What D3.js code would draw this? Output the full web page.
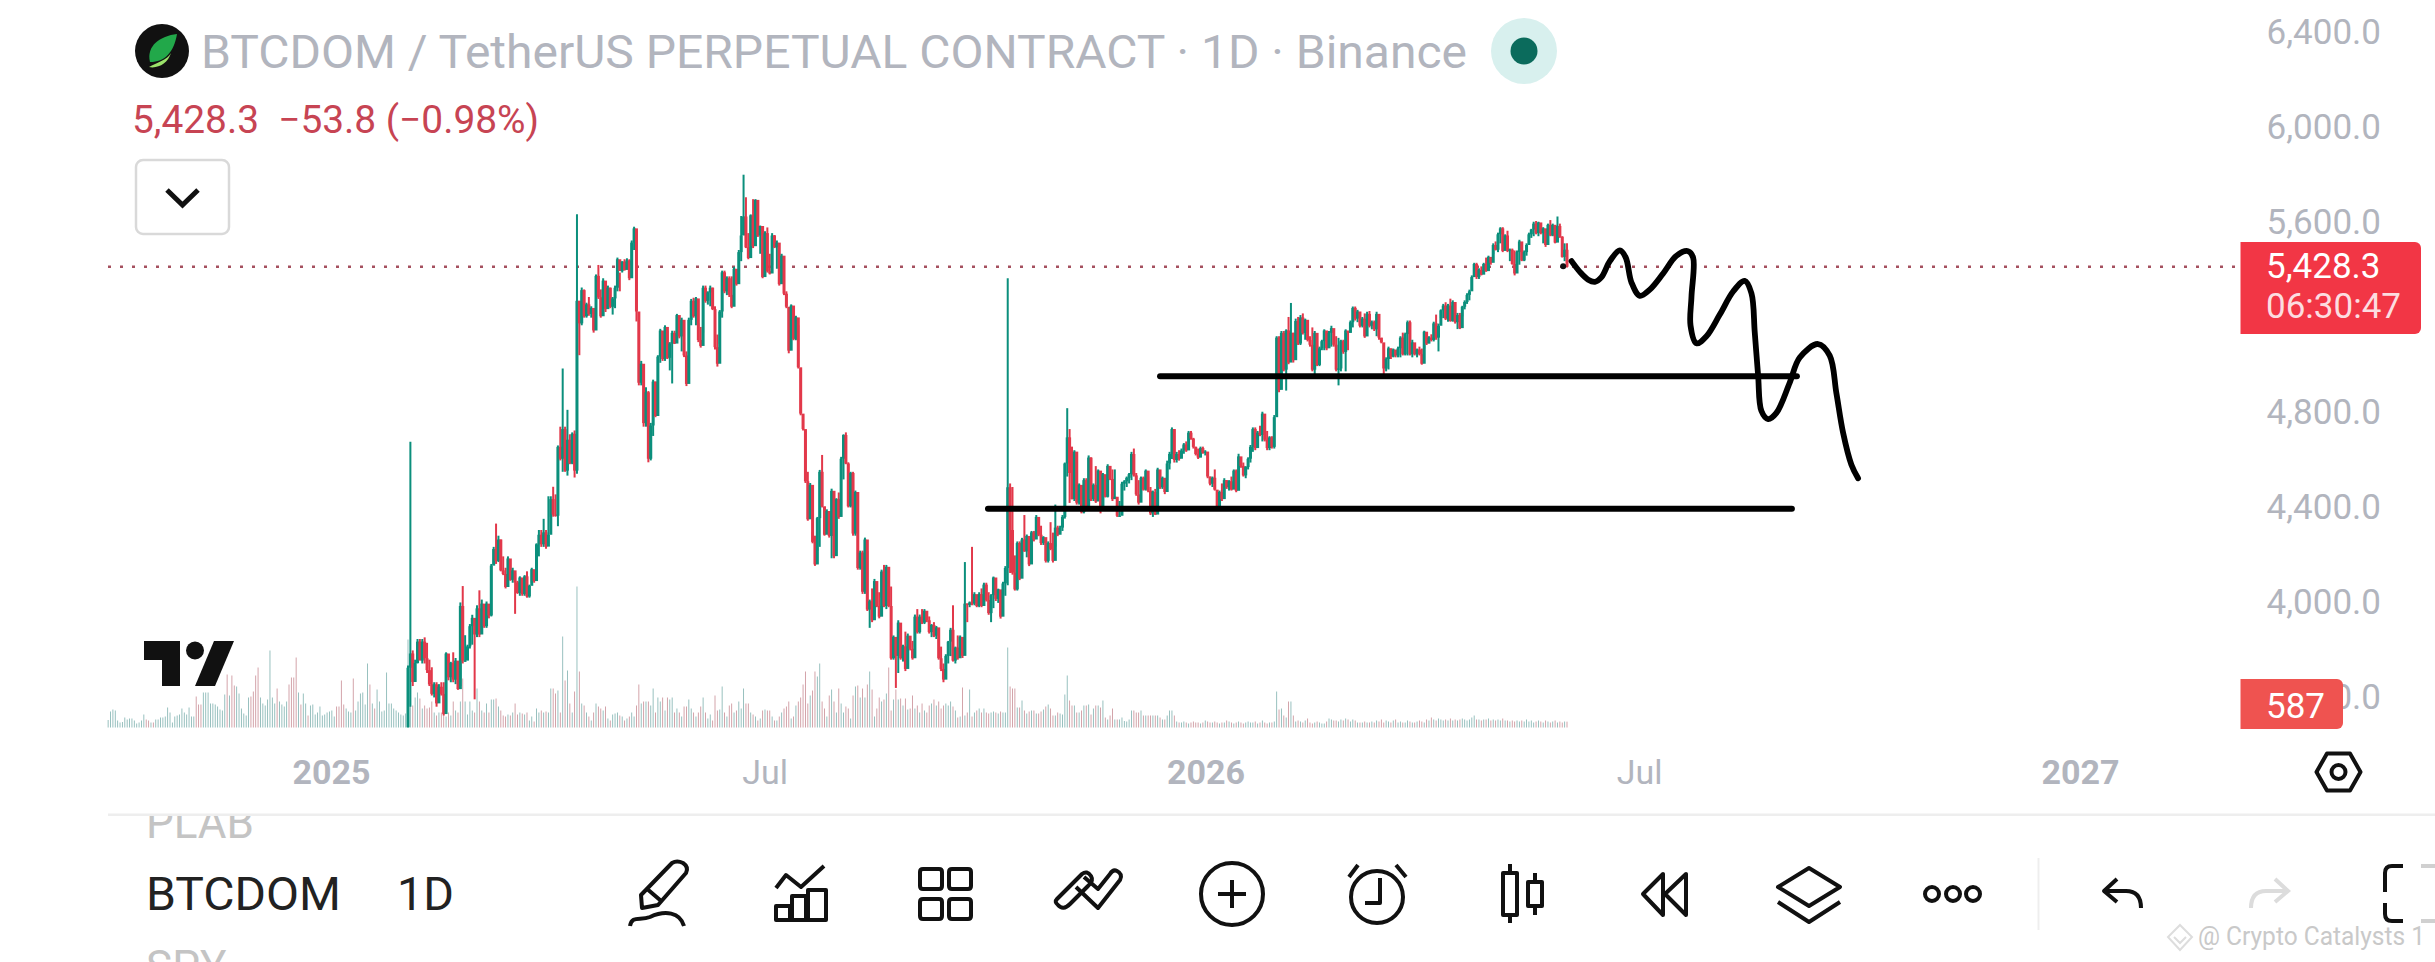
<!DOCTYPE html>
<html>
<head>
<meta charset="utf-8">
<title>BTCDOM / TetherUS</title>
<script src="https://cdn.jsdelivr.net/npm/d3@7/dist/d3.min.js"></script>
<style>
  html, body { margin: 0; background: #fff; }
  svg { display: block; font-family: Roboto, sans-serif; }
  .ic { fill: none; stroke: #111; stroke-width: 4; stroke-linejoin: round; }
</style>
</head>
<body>
<svg id="chart" width="2435" height="962"></svg>
<script>
// ---- Data ----
const priceTicks = [6400, 6000, 5600, 5200, 4800, 4400, 4000, 3600];
const timeTicks = ["2025-01-01", "2025-07-01", "2026-01-01", "2026-07-01", "2027-01-01"];
const lastPrice = 5428.3;
const lastVolume = 587;

const highs = [
  3750,4692,3813,3774,3861,3861,3861,3868,3845,3774,
  3742,3679,3679,3671,3679,3679,3805,3765,3765,3805,
  3781,3718,4015,4084,3877,3837,3924,3963,3932,4003,
  4066,4027,4003,4019,4003,4177,4249,4347,4296,4280,
  4209,4161,4209,4161,4161,4138,4106,4125,4114,4130,
  4146,4090,4161,4146,4264,4320,4320,4367,4320,4462,
  4462,4502,4470,4676,4755,5000,4755,4826,4723,4731,
  4739,5649,5285,5341,5333,5277,5301,5262,5254,5396,
  5436,5333,5380,5349,5349,5341,5301,5349,5467,5404,
  5452,5460,5464,5460,5539,5597,5578,5238,5032,4992,
  4921,4905,4771,4953,4945,5056,5167,5143,5182,5159,
  5111,5159,5159,5230,5214,5214,5111,5072,5214,5293,
  5298,5301,5190,5175,5349,5349,5325,5349,5341,5262,
  5143,5246,5412,5412,5388,5388,5388,5428,5396,5499,
  5642,5816,5721,5570,5649,5713,5713,5649,5602,5594,
  5578,5594,5483,5570,5562,5539,5483,5483,5404,5325,
  5254,5270,5214,5222,5182,5000,4803,4739,4565,4518,
  4312,4296,4375,4573,4636,4415,4407,4391,4494,4446,
  4454,4478,4628,4723,4731,4605,4565,4565,4486,4312,
  4233,4233,4288,4233,4027,4074,4114,4058,4058,4153,
  4173,4173,4082,4082,3876,3837,3940,3853,3837,3892,
  3884,3845,3853,3964,3987,3964,3987,3987,3971,3956,
  3924,3932,3916,3884,3829,3758,3797,3853,3908,4003,
  3829,3876,3876,3829,4185,4011,4019,4249,4058,4043,
  4058,4074,4098,4098,4058,4050,4124,4087,4073,4058,
  4102,4168,5380,4516,4501,4213,4272,4272,4287,4383,
  4301,4265,4316,4316,4383,4346,4338,4294,4272,4272,
  4353,4309,4427,4338,4338,4383,4604,4833,4745,4671,
  4656,4530,4516,4457,4538,4538,4634,4626,4516,4589,
  4575,4501,4560,4530,4597,4589,4575,4575,4457,4442,
  4523,4530,4545,4560,4649,4663,4560,4530,4545,4545,
  4575,4545,4501,4486,4493,4582,4530,4545,4530,4612,
  4649,4752,4745,4649,4656,4663,4686,4693,4737,4737,
  4708,4671,4663,4671,4671,4656,4649,4545,4545,4575,
  4486,4486,4516,4538,4530,4530,4545,4575,4575,4641,
  4612,4604,4589,4626,4678,4752,4752,4737,4759,4818,
  4767,4737,4715,4715,4804,5136,5136,5158,5158,5165,
  5217,5276,5151,5210,5217,5225,5232,5210,5188,5136,
  5173,5158,5099,5092,5121,5165,5121,5158,5180,5158,
  5136,5129,5121,5121,5165,5158,5202,5261,5261,5247,
  5217,5217,5232,5239,5242,5202,5202,5239,5195,5129,
  5106,5047,5092,5084,5084,5077,5092,5136,5151,5151,
  5202,5202,5121,5092,5084,5092,5084,5159,5136,5136,
  5144,5197,5227,5189,5249,5272,5279,5272,5294,5287,
  5234,5234,5234,5264,5287,5317,5332,5392,5445,5445,
  5422,5430,5445,5467,5475,5467,5527,5535,5572,5595,
  5595,5565,5580,5505,5505,5497,5497,5542,5497,5497,
  5527,5572,5588,5618,5621,5618,5603,5595,5588,5610,
  5625,5610,5603,5640,5610,5557,5527,5527
];

const lows = [
  3489,3576,3663,3686,3758,3774,3758,3758,3718,3663,
  3623,3615,3576,3600,3623,3539,3687,3687,3679,3679,
  3671,3647,3663,3758,3765,3805,3821,3837,3607,3869,
  3869,3900,3908,3908,3948,3956,4177,4177,4185,4146,
  4130,4074,4090,4106,4098,3967,4051,4043,4043,4043,
  4035,4035,4098,4098,4138,4209,4249,4249,4241,4296,
  4376,4376,4376,4336,4613,4565,4565,4549,4597,4597,
  4541,4557,5056,5182,5214,5214,5222,5214,5151,5254,
  5293,5214,5246,5238,5254,5254,5227,5254,5325,5325,
  5404,5412,5420,5372,5436,5499,5198,4929,4929,4755,
  4755,4605,4613,4716,4795,4898,5024,5032,5032,5040,
  4992,4937,5103,5135,5127,5072,5048,4926,5032,5182,
  5214,5182,5111,5088,5151,5277,5269,5262,5246,5080,
  5008,5103,5214,5317,5309,5301,5254,5341,5349,5357,
  5452,5562,5507,5460,5507,5507,5618,5554,5483,5380,
  5452,5404,5396,5436,5507,5420,5349,5372,5309,5254,
  5064,5119,5119,5119,5000,4803,4739,4518,4359,4423,
  4264,4169,4233,4249,4415,4296,4336,4288,4201,4201,
  4367,4367,4533,4533,4597,4415,4415,4296,4296,4153,
  4153,4051,4051,3979,3908,3932,3995,3995,3948,4035,
  3995,3987,3995,3774,3774,3655,3718,3774,3766,3726,
  3821,3813,3774,3829,3884,3884,3924,3924,3932,3884,
  3869,3869,3861,3774,3726,3679,3710,3758,3789,3766,
  3758,3774,3789,3781,3829,3932,3995,4003,4003,3995,
  3995,3995,4011,4019,3963,3932,3991,4021,4013,3947,
  4036,4043,4087,4139,4132,4065,4065,4109,4161,4228,
  4205,4168,4235,4272,4294,4294,4257,4257,4183,4183,
  4235,4183,4250,4294,4309,4316,4368,4545,4434,4449,
  4442,4427,4427,4390,4390,4405,4405,4442,4442,4434,
  4442,4390,4427,4457,4457,4530,4442,4457,4375,4375,
  4412,4486,4501,4516,4530,4545,4464,4427,4471,4486,
  4486,4479,4383,4375,4383,4493,4493,4493,4471,4530,
  4575,4619,4604,4604,4612,4626,4641,4649,4693,4700,
  4663,4634,4619,4626,4641,4634,4538,4508,4501,4486,
  4405,4442,4442,4493,4493,4486,4486,4493,4479,4560,
  4582,4545,4538,4575,4604,4649,4656,4708,4715,4693,
  4693,4656,4656,4663,4663,4804,4900,4988,4988,4907,
  5018,5033,5025,5077,5099,5099,5143,5121,5114,5092,
  4988,4973,5010,5010,5077,5077,5077,5092,5092,5092,
  4988,4929,4988,5062,4988,5077,5151,5173,5202,5195,
  5173,5173,5129,5195,5173,5165,5158,5136,5121,5106,
  4959,4988,4996,5040,5047,5047,5047,5047,5055,5055,
  5055,5055,5047,5055,5047,5055,5016,5084,5099,5106,
  5114,5114,5121,5072,5212,5212,5204,5197,5197,5197,
  5189,5166,5166,5219,5249,5272,5287,5332,5385,5377,
  5377,5392,5400,5407,5415,5437,5482,5497,5490,5527,
  5490,5520,5490,5452,5437,5392,5437,5437,5452,5452,
  5475,5520,5550,5557,5565,5557,5565,5527,5512,5550,
  5557,5557,5527,5550,5550,5467,5452,5425
];

const closes = [
  3740,3800,3680,3760,3850,3770,3850,3780,3730,3670,
  3630,3670,3590,3660,3630,3545,3800,3700,3760,3690,
  3770,3650,4000,3770,3770,3830,3915,3950,3880,3990,
  3880,4010,3915,4010,3960,4170,4240,4190,4280,4150,
  4135,4080,4200,4110,4150,4100,4055,4120,4050,4125,
  4040,4085,4155,4105,4260,4300,4260,4310,4250,4300,
  4450,4385,4380,4670,4620,4745,4570,4700,4600,4725,
  4570,5285,5190,5330,5220,5270,5230,5255,5160,5390,
  5300,5220,5370,5250,5340,5260,5295,5340,5460,5410,
  5450,5415,5455,5380,5530,5590,5240,4940,5020,4770,
  4900,4620,4760,4945,4800,5050,5160,5040,5175,5045,
  5105,5150,5105,5225,5135,5205,5055,4935,5205,5285,
  5220,5295,5120,5095,5340,5285,5320,5340,5250,5090,
  5020,5240,5405,5325,5380,5310,5260,5420,5355,5490,
  5560,5640,5510,5465,5645,5515,5710,5560,5600,5385,
  5570,5410,5400,5560,5510,5530,5355,5475,5315,5260,
  5075,5265,5125,5215,5005,4810,4745,4525,4365,4510,
  4270,4175,4370,4565,4420,4300,4400,4295,4485,4210,
  4450,4375,4620,4720,4600,4420,4560,4305,4480,4160,
  4225,4060,4280,3985,4020,3940,4105,4000,3955,4145,
  4000,4165,4000,3780,3870,3790,3930,3780,3830,3735,
  3875,3820,3780,3955,3890,3955,3930,3980,3940,3890,
  3920,3875,3910,3780,3735,3690,3790,3850,3900,3770,
  3825,3780,3870,3790,4010,4005,4015,4010,4050,4000,
  4050,4000,4090,4025,3970,4045,4120,4030,4070,3955,
  4095,4160,4500,4320,4140,4070,4265,4115,4280,4230,
  4295,4175,4310,4280,4375,4300,4265,4290,4190,4265,
  4240,4190,4330,4300,4330,4375,4600,4710,4560,4450,
  4650,4435,4510,4395,4530,4410,4625,4450,4510,4440,
  4570,4400,4555,4460,4590,4535,4450,4460,4380,4380,
  4515,4525,4540,4555,4640,4550,4470,4435,4540,4490,
  4570,4485,4390,4480,4385,4575,4500,4540,4480,4600,
  4640,4745,4615,4640,4620,4655,4680,4655,4730,4705,
  4670,4640,4625,4665,4645,4650,4545,4515,4540,4490,
  4410,4480,4450,4530,4500,4525,4490,4570,4485,4630,
  4590,4550,4585,4620,4670,4745,4665,4730,4720,4810,
  4700,4665,4710,4670,4795,5130,4910,5150,4995,5160,
  5025,5150,5035,5200,5105,5215,5150,5205,5120,5100,
  4995,5150,5015,5085,5115,5160,5085,5150,5170,5100,
  4995,5000,5115,5070,5160,5150,5195,5255,5210,5240,
  5180,5210,5135,5230,5180,5195,5165,5230,5130,5110,
  5000,5040,5085,5050,5080,5055,5085,5130,5060,5145,
  5195,5060,5110,5060,5080,5060,5020,5155,5105,5130,
  5120,5190,5130,5180,5245,5265,5210,5265,5200,5280,
  5195,5225,5170,5260,5280,5310,5325,5385,5440,5385,
  5415,5395,5440,5410,5470,5445,5520,5500,5565,5590,
  5495,5560,5495,5500,5440,5400,5490,5535,5455,5490,
  5520,5565,5585,5610,5570,5615,5570,5590,5520,5605,
  5560,5605,5530,5600,5555,5470,5500,5428.3
];

// volume before the first visible candle
const earlyVolumes = [
  750,1600,1800,1700,700,500,550,1000,800,900,
  900,700,400,500,700,1300,800,700,500,500,
  800,800,1000,1000,1100,2000,1500,500,1100,1200,
  1300,1900,1500,1300,2000,1100,1100,3100,2300,2300,
  3500,3500,3500,2400,2400,2300,2100,1800,1700,3300,
  5300,3200,5200,4200,4100,3400,1900,1400,1200,3000,
  3100,3600,5200,6000,3000,2400,2200,2800,7700,3000,
  2400,3900,2600,2300,2100,2600,4300,5000,5000,7000,
  3500,2300,3400,2400,1200,2200,2300,1300,1500,2100,
  1200,1300,1500,1600,1700,1100,2100,2100,4700,2300,
  1900,1600,1500,4900,1700,2600,3400,3500,2300,6400,
  4300,2400,1900,3800,2600,1600,1700,5500,2400,2400,
  1900,1700,1500,1300,1200,1400
];
const earlyRedBars = [16,17,19,37,38,39,50,52,53,60,61,62,63,71,76,77,78,79,81,84,96,97,98,99,103,110,112];

// volume under the candles
const volumes = [
  8800,2600,2200,3000,3500,2900,1900,2200,1900,2000,
  2600,1500,1200,1500,1500,1900,1100,1500,1200,2600,
  1700,1500,2600,4900,2600,1300,2600,1700,1500,3900,
  2600,1700,1500,2400,1500,2800,2800,2900,2100,1700,
  1200,1100,1300,1200,1500,2400,1300,1500,1400,1300,
  1500,700,1100,600,1900,1500,1700,1500,1600,1500,
  3900,3900,3400,3700,1500,9100,4700,5700,2400,1500,
  3600,14100,5600,2400,2200,1500,1100,700,1500,2400,
  2100,1900,1700,2100,900,700,1300,1400,1500,1200,
  1100,700,900,1100,1500,1100,2200,4300,2400,2600,
  2600,2600,2200,3900,1500,3000,2600,3000,1700,3000,
  2800,3000,1500,1900,1500,1100,2100,2100,2800,1900,
  1500,1100,1500,2100,3000,1500,900,1300,700,3200,
  1700,1800,4100,1500,1100,2200,2400,1500,1700,2600,
  1900,3900,2400,2400,1500,1300,1100,700,900,1700,
  1800,1700,1700,1100,700,700,1100,1500,1900,2100,
  2600,900,1100,2200,2600,3000,4300,5600,2400,3200,
  3700,5600,5100,6400,2600,1900,1100,3200,3800,2600,
  1500,3900,2400,1500,2100,1900,900,3200,4100,4200,
  3000,3900,3000,4300,5600,3800,1100,1900,3000,2600,
  2800,3400,6000,1700,2800,3800,2800,2900,2200,2900,
  1800,1900,3200,1900,2200,1500,2400,1700,1500,2200,
  2400,2800,2200,2600,1900,2200,2400,2200,2600,2100,
  1700,1000,1100,4000,1200,1500,3800,1100,1500,1700,
  1900,1500,1900,1500,1400,1500,1600,1500,1400,1600,
  1500,1500,8000,4100,3900,3900,2000,2000,2700,1700,
  1400,1600,1700,1700,1400,1400,1600,1800,2100,2300,
  1900,1200,1200,1500,1400,1300,3300,5200,2700,2200,
  2200,1500,1500,1700,2200,2200,2300,1300,1900,2200,
  2200,2000,2700,1000,800,1200,1900,800,800,800,
  1000,650,600,800,1700,1700,1500,1500,1700,1200,
  1200,1200,1200,1200,1200,1200,1000,800,800,1200,
  1700,1700,1200,600,500,500,600,500,400,500,
  600,500,500,400,500,700,600,500,500,600,
  500,400,500,500,700,600,500,400,500,600,
  500,400,500,600,500,500,600,400,500,700,
  500,400,500,500,600,3600,1800,1900,1200,1000,
  2600,2600,1200,600,700,600,500,700,900,500,
  400,500,600,500,400,400,600,900,800,700,
  700,600,800,700,900,800,600,800,700,500,
  500,500,600,500,500,600,500,700,600,800,
  500,700,600,500,700,800,500,600,500,500,
  700,600,500,500,600,700,600,500,800,700,
  1000,800,700,900,800,700,800,700,900,700,
  800,700,800,900,800,700,800,1000,1200,800,
  800,700,800,800,900,700,800,700,800,700,
  900,700,700,600,700,600,700,600,700,600,
  800,600,700,500,600,700,600,500,700,600,
  500,600,700,500,600,500,600,587
];

// hand drawn overlays, in bar number and price
const supportLevels = [
  { from: 316, to: 583.6, price: 4967 },
  { from: 243.7, to: 581.5, price: 4409 }
];
const sketchBars = [488.9,492.4,495.9,498.7,501.5,505,509.2,511.7,514.1,517.6,521.8,527.4,533,537.9,540,539.3,538.9,541.4,545.6,551.2,556.8,561.7,564.5,565.9,567.3,568.7,571.5,575,580.6,584.8,592.5,597.4,600.2,603,606.5,609.3];
const sketchPrices = [5452,5407,5374,5365,5385,5452,5497,5467,5362,5306,5332,5400,5475,5494,5467,5302,5181,5106,5136,5227,5324,5369,5317,5151,4971,4821,4787,4813,4941,5046,5103,5054,4896,4730,4595,4538];

// ---- Colours ----
const GREEN = "#0b8f7c";
const RED = "#e2384a";
const TAG_RED = "#f23645";
const GREY = "#b2b5be";

// ---- Scales ----
const parseDay = d3.utcParse("%Y-%m-%d");
const x = d3.scaleUtc().domain([parseDay("2025-01-01"), parseDay("2027-01-01")]).range([331, 2080]);
const xBar = d3.scaleLinear().domain([0, closes.length - 1]).range([408, 1567]);
const y = d3.scaleLinear().domain([6400, 3600]).range([36, 701]);
const yVol = d3.scaleLinear().domain([0, 14100]).range([727.5, 586.5]);

const svg = d3.select("#chart");
const candles = closes.map((c, i) => ({
  i,
  open: i ? closes[i - 1] : lows[0],
  close: c,
  high: highs[i],
  low: lows[i]
}));

// ---- Axes ----
const yAxis = d3.axisLeft(y).tickValues(priceTicks).tickSize(0).tickPadding(0).tickFormat(d3.format(",.1f"));
svg.append("g").attr("transform", "translate(2381,-4)").call(yAxis)
  .call((g) => g.select(".domain").remove())
  .selectAll("text").attr("fill", GREY).style("font-size", "35px").style("font-family", "Roboto");

const xAxis = d3.axisBottom(x).tickValues(timeTicks.map(parseDay)).tickSize(0).tickPadding(0)
  .tickFormat((d) => (d.getUTCMonth() === 0 ? d3.utcFormat("%Y")(d) : d3.utcFormat("%b")(d)));
svg.append("g").attr("transform", "translate(0,760)").call(xAxis)
  .call((g) => g.select(".domain").remove())
  .selectAll("text").attr("fill", GREY).style("font-size", "34px").style("font-family", "Roboto")
  .style("font-weight", (d) => (d.getUTCMonth() === 0 ? 700 : 400));

// ---- Volume ----
const redSet = new Set(earlyRedBars);
const volG = svg.append("g");
volG.selectAll("rect.early").data(earlyVolumes).join("rect").attr("class", "early")
  .attr("x", (d, i) => xBar(i - earlyVolumes.length) - 0.45)
  .attr("width", 0.9)
  .attr("y", (d) => yVol(d))
  .attr("height", (d) => yVol(0) - yVol(d))
  .attr("fill", (d, i) => (redSet.has(i) ? "#cf9aa1" : "#8dbab8"));
volG.selectAll("rect.late").data(volumes).join("rect").attr("class", "late")
  .attr("x", (d, i) => xBar(i) - 0.45)
  .attr("width", 0.9)
  .attr("y", (d) => yVol(d))
  .attr("height", (d) => yVol(0) - yVol(d))
  .attr("fill", (d, i) => (candles[i] && candles[i].close < candles[i].open ? "#cf9aa1" : "#8dbab8"));

// ---- Last price line ----
svg.append("line")
  .attr("x1", 108).attr("x2", 2240)
  .attr("y1", y(lastPrice)).attr("y2", y(lastPrice))
  .attr("stroke", "#a5505f").attr("stroke-width", 2.6).attr("stroke-dasharray", "3 9");

// ---- Candles ----
const candleG = svg.append("g").selectAll("g").data(candles).join("g")
  .attr("fill", (d) => (d.close >= d.open ? GREEN : RED))
  .attr("stroke", (d) => (d.close >= d.open ? GREEN : RED));
candleG.append("line")
  .attr("x1", (d) => xBar(d.i)).attr("x2", (d) => xBar(d.i))
  .attr("y1", (d) => y(d.high)).attr("y2", (d) => y(d.low))
  .attr("stroke-width", 2);
candleG.append("rect")
  .attr("x", (d) => xBar(d.i) - 1.5)
  .attr("width", 3)
  .attr("y", (d) => y(Math.max(d.open, d.close)))
  .attr("height", (d) => Math.max(1, Math.abs(y(d.open) - y(d.close))))
  .attr("stroke", "none");

// ---- Hand drawn lines ----
svg.append("g").selectAll("line").data(supportLevels).join("line")
  .attr("x1", (d) => xBar(d.from)).attr("x2", (d) => xBar(d.to))
  .attr("y1", (d) => y(d.price)).attr("y2", (d) => y(d.price))
  .attr("stroke", "#000").attr("stroke-width", 6).attr("stroke-linecap", "round");
const sketchLine = d3.line()
  .x((b) => xBar(b))
  .y((b, i) => y(sketchPrices[i]))
  .curve(d3.curveCatmullRom.alpha(0.5));
svg.append("path").attr("d", sketchLine(sketchBars))
  .attr("fill", "none").attr("stroke", "#000").attr("stroke-width", 5.8)
  .attr("stroke-linecap", "round").attr("stroke-linejoin", "round");
svg.append("circle").attr("cx", xBar(485.4)).attr("cy", y(5431)).attr("r", 3).attr("fill", "#111");

// ---- Price tags ----
svg.append("path").attr("d", "M2240.5 242H2415a6 6 0 0 1 6 6V328a6 6 0 0 1 -6 6H2240.5Z").attr("fill", TAG_RED);
svg.append("text").attr("x", 2266).attr("y", 278).attr("fill", "#fff").attr("font-size", 35).text(d3.format(",.1f")(lastPrice));
svg.append("text").attr("x", 2266).attr("y", 318).attr("fill", "#fcdde0").attr("font-size", 35).text("06:30:47");
svg.append("path").attr("d", "M2240.5 679H2337a6 6 0 0 1 6 6V723a6 6 0 0 1 -6 6H2240.5Z").attr("fill", "#ef5350");
svg.append("text").attr("x", 2266).attr("y", 717.5).attr("fill", "#fff").attr("font-size", 35).text(lastVolume);

// ---- Header ----
svg.append("circle").attr("cx", 162).attr("cy", 51).attr("r", 27).attr("fill", "#111");
svg.append("path").attr("d", "M177 34C160 36 146 46 150 62C165 62 174 52 177 34Z").attr("fill", "#22a84a");
svg.append("path").attr("d", "M149 67C158 62 167 60 171 53C168 63 158 69 149 67Z").attr("fill", "#9be36a");
svg.append("text").attr("x", 201).attr("y", 68).attr("fill", GREY).attr("font-size", 47)
  .attr("textLength", 1266).attr("lengthAdjust", "spacingAndGlyphs")
  .text("BTCDOM / TetherUS PERPETUAL CONTRACT · 1D · Binance");
svg.append("circle").attr("cx", 1524).attr("cy", 51).attr("r", 33).attr("fill", "#d8f0ee");
svg.append("circle").attr("cx", 1524).attr("cy", 51).attr("r", 13.5).attr("fill", "#0b6b5c");
svg.append("text").attr("x", 132).attr("y", 133).attr("fill", "#c74453").attr("font-size", 39)
  .attr("textLength", 407).attr("lengthAdjust", "spacingAndGlyphs")
  .text("5,428.3\u00a0\u00a0\u221253.8 (\u22120.98%)");
svg.append("rect").attr("x", 136).attr("y", 160).attr("width", 93).attr("height", 74).attr("rx", 7)
  .attr("fill", "#fff").attr("stroke", "#d9d9d9").attr("stroke-width", 2.5);
svg.append("path").attr("d", "M167 190L182.5 205L198 190").attr("fill", "none").attr("stroke", "#111").attr("stroke-width", 5);

// ---- TradingView mark ----
svg.append("path").attr("d", "M144 641H180V686H162V660H144Z").attr("fill", "#111");
svg.append("circle").attr("cx", 195).attr("cy", 650.5).attr("r", 9).attr("fill", "#111");
svg.append("path").attr("d", "M214 641H234L215 686H195Z").attr("fill", "#111");

// ---- Hex settings button and toolbar divider ----
svg.append("path").attr("class", "ic").attr("d", "M2316.5 772L2327 753.5H2350L2360.5 772L2350 790.5H2327Z").attr("stroke-width", 3.5);
svg.append("circle").attr("class", "ic").attr("cx", 2338.5).attr("cy", 772).attr("r", 7).attr("stroke-width", 3.5);
svg.append("rect").attr("x", 108).attr("y", 813.5).attr("width", 2327).attr("height", 2.5).attr("fill", "#eeeeee");

// ---- Symbol picker ----
svg.append("clipPath").attr("id", "pick").append("rect").attr("x", 0).attr("y", 816).attr("width", 600).attr("height", 146);
const pick = svg.append("g").attr("clip-path", "url(#pick)").attr("font-size", 46);
pick.append("text").attr("x", 146).attr("y", 838).attr("fill", "#c4c4c4").attr("font-size", 44).text("PLAB");
pick.append("text").attr("x", 146).attr("y", 910).attr("fill", "#222").attr("textLength", 195).attr("lengthAdjust", "spacingAndGlyphs").text("BTCDOM");
pick.append("text").attr("x", 397).attr("y", 910).attr("fill", "#222").attr("textLength", 57).attr("lengthAdjust", "spacingAndGlyphs").text("1D");
pick.append("text").attr("x", 146).attr("y", 982).attr("fill", "#c4c4c4").attr("font-size", 44).text("SPY");

// ---- Toolbar icons ----
const bar = svg.append("g");
const icons = [
  "M641 895L672 863Q677 860 683 863Q689 867 686 873L658 905L642 908Z M646 888L660 900",
  "M630 926C632 915 640 921 650 917C665 910 680 912 684 926",
  "M776 888L786 875L801 887L824 866",
  "M776 920V906H790V920Z M792 920V896H806V920Z M808 920V890H826V920Z",
  "M920 872q0-3 3-3h16q3 0 3 3v14q0 3-3 3h-16q-3 0-3-3Z M949 872q0-3 3-3h16q3 0 3 3v14q0 3-3 3h-16q-3 0-3-3Z",
  "M920 902q0-3 3-3h16q3 0 3 3v14q0 3-3 3h-16q-3 0-3-3Z M949 902q0-3 3-3h16q3 0 3 3v14q0 3-3 3h-16q-3 0-3-3Z",
  "M1057 899L1082 874Q1087 870 1091 876Q1094 881 1088 886L1070 904Q1063 911 1058 905Q1054 902 1057 899Z",
  "M1076 887L1098 908L1120 880Q1123 874 1117 871Q1113 869 1110 874L1098 889L1084 877",
  "M1218 894H1246 M1232 880V908",
  "M1380 878V903H1365 M1349 877L1358 865 M1406 877L1396 865",
  "M1503 873H1517V915H1503Z M1510 864V873 M1510 915V923 M1528 882H1542V906H1528Z M1535 873V882 M1535 906V915",
  "M1643 894L1663 874V915Z M1665 894L1686 874V915Z",
  "M1809 868L1840 887L1809 906L1778 887Z M1778 902L1809 922L1840 902",
  "M2117 879L2104 891L2117 902 M2104 891H2126Q2141 891 2141 908"
];
bar.selectAll("path").data(icons).join("path").attr("class", "ic").attr("d", (d) => d);
bar.append("circle").attr("class", "ic").attr("cx", 1232).attr("cy", 894).attr("r", 31);
bar.append("circle").attr("class", "ic").attr("cx", 1377).attr("cy", 897).attr("r", 26);
[1932, 1953, 1973].forEach((cx) => {
  bar.append("circle").attr("class", "ic").attr("cx", cx).attr("cy", 894).attr("r", 7);
});
bar.append("line").attr("x1", 2038.5).attr("x2", 2038.5).attr("y1", 858).attr("y2", 930).attr("stroke", "#eeeeee").attr("stroke-width", 2);
bar.append("path").attr("d", "M2275 879L2288 891L2275 902 M2288 891H2266Q2251 891 2251 908")
  .attr("fill", "none").attr("stroke", "#dcdcdc").attr("stroke-width", 4);
bar.append("path").attr("class", "ic").attr("d", "M2403 866H2392Q2385 866 2385 873V892 M2403 921H2392Q2385 921 2385 914V903");
bar.append("path").attr("d", "M2421 866H2435 M2421 921H2435").attr("stroke", "#d0d0d0").attr("stroke-width", 4);

// ---- Watermark ----
svg.append("path").attr("d", "M2180 925L2192 937L2180 950L2168 937Z M2174 937L2180 943L2186 937")
  .attr("fill", "none").attr("stroke", "#dddddd").attr("stroke-width", 2);
svg.append("text").attr("x", 2198).attr("y", 945).attr("fill", "#c9c9c9").attr("font-size", 25)
  .attr("textLength", 227).attr("lengthAdjust", "spacingAndGlyphs").text("@ Crypto Catalysts 1");
</script>
</body>
</html>
